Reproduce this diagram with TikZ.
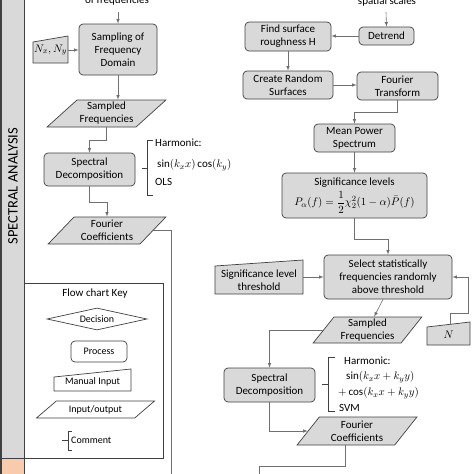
\documentclass[tikz,border=0pt]{standalone}
\usepackage{amsmath}
\usepackage{amssymb}
\usepackage{fontspec}
\setmainfont{Carlito}
\usepackage{tikz}
\usetikzlibrary{calc}
\usetikzlibrary{shapes.geometric}
\tikzset{>=latex}

\definecolor{boxgray}{HTML}{D9D9D9}
\definecolor{edgegray}{HTML}{404040}
\definecolor{linegray}{HTML}{707070}
\definecolor{barorange}{HTML}{F8CBAD}

\tikzset{
  txt/.style={font=\fontsize{11}{13}\selectfont},
  keytxt/.style={font=\fontsize{10}{12}\selectfont},
  process/.style={rectangle, rounded corners=4pt, draw=edgegray, fill=boxgray,
    line width=0.7pt, align=center, inner sep=1pt, txt},
  iobox/.style={trapezium, trapezium stretches=true, draw=edgegray, fill=boxgray,
    line width=0.7pt, align=center, inner sep=0.5pt, txt},
  manual/.style={draw=edgegray, fill=boxgray, line width=0.7pt},
  plain/.style={inner sep=0pt, align=center, txt},
  conn/.style={draw=linegray, line width=0.6pt},
  brack/.style={draw=edgegray, line width=0.6pt},
}

\begin{document}
\begin{tikzpicture}[x=1pt,y=-1pt]
    \useasboundingbox (0,0) rectangle (474,474);
    \clip (0,0) rectangle (474,474);

    % side bar
    \fill [boxgray] (0,0) rectangle (24,458);
    \fill [barorange] (0,458) rectangle (24,474);
    \draw [edgegray, line width=2pt] (1,0) -- (1,474);
    \draw [edgegray, line width=0.8pt] (24,0) -- (24,474);
    \node (side) [rotate=90, font=\fontsize{14.5}{16}\selectfont] at (13,186)
    {SPECTRAL ANALYSIS};

    % flow chart key
    \draw [edgegray, line width=0.8pt] (24,283) rectangle (163,458);
    \draw [edgegray, line width=0.8pt] (0,458) -- (24,458);
    \node (keytitle) [txt] at (95,294) {Flow chart Key};
    \node (kdec) [diamond, draw=edgegray, line width=0.7pt, aspect=4.5,
    inner sep=0pt, minimum width=100, minimum height=22, keytxt] at (97,319)
    {Decision};
    \node (kproc) [process, fill=white, minimum width=56, minimum height=21,
    keytxt] at (99,351.5) {Process};
    \draw [manual, fill=white] (54,377) -- (131,369) -- (131,391) -- (54,391)
    -- cycle;
    \node (kman) [plain, keytxt] at (92.5,382) {Manual Input};
    \node (kio) [iobox, fill=white, trapezium left angle=35,
    trapezium right angle=145, minimum width=119, minimum height=17, keytxt]
    at (95.5,409.5) {Input/output};
    \draw [brack] (72,431) -- (68,431) -- (68,450) -- (72,450);
    \draw [brack] (62,440) -- (68,440);
    \node (kcom) [plain, keytxt, anchor=west] at (71,440) {Comment};

    % left column
    \node (oftxt) [txt, anchor=base] at (117,3.5) {of frequencies};
    \coordinate (topL) at (118,12);
    \node (samp) [process, minimum width=78, minimum height=51] at (118,49.5)
    {Sampling of\\Frequency\\Domain};
    \draw [manual] (33,42) -- (68,36) -- (68,63) -- (33,63) -- cycle;
    \node (nxy) [plain, minimum width=35, minimum height=27] at (50.5,50)
    {$N_x, N_y$};
    \node (sfL) [iobox, trapezium left angle=40, trapezium right angle=140,
    minimum width=119, minimum height=27] at (106.5,113.5)
    {Sampled\\Frequencies};
    \node (specL) [process, minimum width=91, minimum height=33]
    at (89.5,169.5) {Spectral\\Decomposition};
    \node (fcL) [iobox, trapezium left angle=46, trapezium right angle=134,
    minimum width=118, minimum height=27] at (107,230.5)
    {Fourier\\Coefficients};
    \coordinate (outL) at (171,474);

    \draw [brack] (153,140) -- (147,140) -- (147,195) -- (153,195);
    \draw [brack] (142,168) -- (147,168);
    \node (harmL) [txt, anchor=west, inner sep=0pt] at (155,143) {Harmonic:};
    \node (eqL) [txt, anchor=west, inner sep=0pt] at (157,165)
    {$\sin(k_x x)\cos(k_y)$};
    \node (olsL) [txt, anchor=west, inner sep=0pt] at (155,182) {OLS};

    \draw [conn, ->] (topL) -- (samp.north);
    \draw [conn, ->] (nxy.east) -- (nxy.east -| samp.west);
    \draw [conn, ->] (samp.south) -- (samp.south |- sfL.north);
    \draw [conn, ->] (sfL.south) -- ++(0,13) -| (specL.north);
    \draw [conn, ->] (specL.south) -- ++(0,16) -| (fcL.north);
    \draw [conn] (fcL.right side) -- (outL |- fcL.right side) -- (outL);

    % right column
    \node (spattxt) [txt, anchor=base] at (387,4.5) {spatial scales};
    \coordinate (topR) at (386,12);
    \node (detr) [process, minimum width=55, minimum height=18]
    at (386.5,36) {Detrend};
    \node (findH) [process, minimum width=86, minimum height=29]
    at (288,36.5) {Find surface\\roughness H};
    \node (crea) [process, minimum width=90, minimum height=28]
    at (288,85) {Create Random\\Surfaces};
    \node (fourT) [process, minimum width=81, minimum height=28]
    at (397.5,86) {Fourier\\Transform};
    \node (meanP) [process, minimum width=81, minimum height=28]
    at (354.5,138) {Mean Power\\Spectrum};
    \node (sig) [process, minimum width=145, minimum height=45]
    at (354.5,195.5) {Significance levels\\[3pt]
    $\displaystyle P_\alpha(f)=\frac{1}{2}\chi_2^2(1-\alpha)\bar{P}(f)$};
    \node (sel) [process, minimum width=128, minimum height=44]
    at (388,277) {Select statistically\\frequencies randomly\\above threshold};
    \draw [manual] (215,266) -- (303,260) -- (303,294) -- (215,294) -- cycle;
    \node (sthr) [plain, minimum width=88, minimum height=28] at (259,280)
    {Significance level\\threshold};
    \draw [manual] (427,327) -- (470,322) -- (470,345) -- (427,345) -- cycle;
    \node (nin) [plain, minimum width=43, minimum height=22] at (448.5,335)
    {$N$};
    \node (sfR) [iobox, trapezium left angle=54, trapezium right angle=126,
    minimum width=109, minimum height=26] at (367.5,330)
    {Sampled\\Frequencies};
    \node (specR) [process, minimum width=91, minimum height=34]
    at (269.5,385) {Spectral\\Decomposition};
    \node (fcR) [iobox, trapezium left angle=54, trapezium right angle=126,
    minimum width=120, minimum height=28] at (357,431)
    {Fourier\\Coefficients};
    \coordinate (outR) at (259,474);

    \draw [brack] (335,357) -- (328,357) -- (328,411) -- (335,411);
    \draw [brack] (322,384) -- (328,384);
    \node (harmR) [txt, anchor=west, inner sep=0pt] at (344,361) {Harmonic:};
    \node (eqR1) [txt, anchor=west, inner sep=0pt] at (346,377)
    {$\sin(k_x x + k_y y)$};
    \node (eqR2) [txt, anchor=west, inner sep=0pt] at (338,393)
    {$+\cos(k_x x + k_y y)$};
    \node (svmR) [txt, anchor=west, inner sep=0pt] at (339,408) {SVM};

    \draw [conn, ->] (topR) -- (detr.north);
    \draw [conn, ->] (detr.west) -- (findH.east |- detr.west);
    \draw [conn, ->] (findH.south) -- (crea.north);
    \draw [conn, ->] (crea.east) -- (fourT.west |- crea.east);
    \draw [conn, ->] (fourT.south) -- ++(0,12) -| (meanP.north);
    \draw [conn, ->] (meanP.south) -- (sig.north);
    \draw [conn, ->] (sig.south) -- ++(0,21) -| (sel.north);
    \draw [conn, ->] (sthr.east |- sel.west) -- (sel.west);
    \draw [conn, ->] ([xshift=1.5pt]nin.north) -- ++(0,-11) -- ++(18,0)
    |- (sel.east);
    \draw [conn, ->] ([xshift=-5pt]sel.south) -- ([xshift=-4pt]sfR.top side);
    \draw [conn, ->] (sfR.left side) -| (specR.north);
    \draw [conn, ->] (specR.south) |- (fcR.left side);
    \draw [conn] (fcR.bottom side) -- ++(0,21) -| (outR);
\end{tikzpicture}
\end{document}
